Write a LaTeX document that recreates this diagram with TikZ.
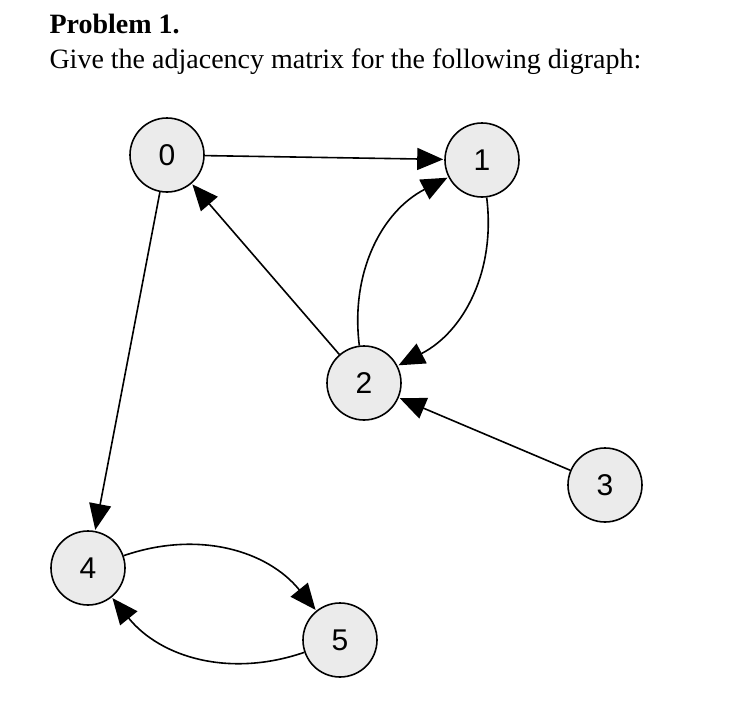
\documentclass[tikz,border=0pt]{standalone}
\usepackage{fontspec}
\setmainfont{Liberation Serif}
\newfontfamily\numfont{Liberation Sans}
\usetikzlibrary{arrows.meta}

\tikzset{
  vertex/.style={circle, draw=black, line width=1.6pt, fill=black!8, minimum size=74pt,
    inner sep=0pt, font=\numfont\fontsize{30}{32}\selectfont},
  edge/.style={line width=1.6pt, -{Triangle[length=26pt,width=22pt]}, shorten >=1pt},
}

\begin{document}
\begin{tikzpicture}[x=1pt,y=-1pt]
\useasboundingbox (0,0) rectangle (732,720);
% heading
\node[anchor=west, font=\fontsize{28}{32}\selectfont\bfseries] (title) at (46,24) {Problem 1.};
\node[anchor=west, font=\fontsize{28}{32}\selectfont] (task) at (46,62) {Give the adjacency matrix for the following digraph:};
% vertices
\node[vertex] (v0) at (167,155) {0};
\node[vertex] (v1) at (482,160) {1};
\node[vertex] (v2) at (364,383) {2};
\node[vertex] (v3) at (605,485) {3};
\node[vertex] (v4) at (88,568) {4};
\node[vertex] (v5) at (340,640) {5};
% arcs
\draw[edge] (v0) -- (v1);
\draw[edge] (v2) -- (v0);
\draw[edge] (v0) -- (v4);
\draw[edge] (v3) -- (v2);
\draw[edge] (v2) to[bend left=35] (v1);
\draw[edge] (v1) to[bend left=35] (v2);
\draw[edge] (v4) to[bend left=35] (v5);
\draw[edge] (v5) to[bend left=35] (v4);
\end{tikzpicture}
\end{document}
